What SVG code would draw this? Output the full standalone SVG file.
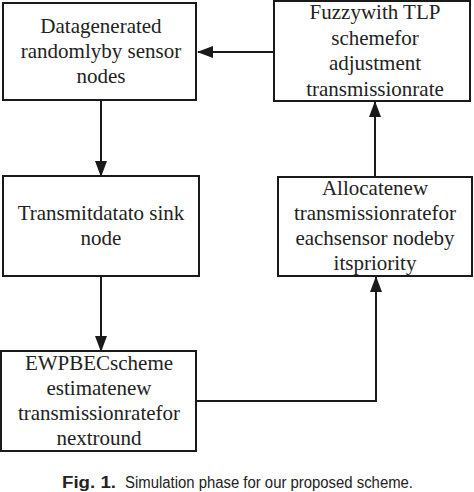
<svg xmlns="http://www.w3.org/2000/svg" width="474" height="492" viewBox="0 0 474 492">
<style>
.box{fill:#fff;stroke:#1a1a1a;stroke-width:2}
.t{font-family:'Times New Roman','Liberation Serif','DejaVu Serif',serif;font-size:21px;fill:#222;text-anchor:middle}
.c{fill:none;stroke:#1a1a1a;stroke-width:2}
.cap{font-family:'Liberation Sans',Arial,sans-serif;font-size:16px;fill:#222}
</style>
<defs>
<marker id="ah" markerWidth="16" markerHeight="12" refX="15" refY="6" orient="auto" markerUnits="userSpaceOnUse">
<path d="M0,0 L16,6 L0,12 Z" fill="#1a1a1a"/>
</marker>
</defs>
<rect width="474" height="492" fill="#fff"/>
<g id="connectors">
<line class="c" x1="274" y1="52" x2="198" y2="52" marker-end="url(#ah)"/>
<line class="c" x1="101" y1="101" x2="101" y2="176" marker-end="url(#ah)"/>
<line class="c" x1="101" y1="276" x2="101" y2="351" marker-end="url(#ah)"/>
<polyline class="c" points="196,401 376,401 376,277" marker-end="url(#ah)"/>
<line class="c" x1="375" y1="177" x2="375" y2="102" marker-end="url(#ah)"/>
</g>
<g id="n1">
<rect class="box" x="3" y="3" width="193" height="97"/>
<text class="t" x="101" y="33">Datagenerated</text>
<text class="t" x="101" y="58">randomlyby sensor</text>
<text class="t" x="101" y="83">nodes</text>
</g>
<g id="n2">
<rect class="box" x="274" y="1" width="196" height="100"/>
<text class="t" x="375" y="19">Fuzzywith TLP</text>
<text class="t" x="375" y="44.5">schemefor</text>
<text class="t" x="375" y="70">adjustment</text>
<text class="t" x="375" y="95.5">transmissionrate</text>
</g>
<g id="n3">
<rect class="box" x="3" y="176" width="196" height="100"/>
<text class="t" x="101" y="220">Transmitdatato  sink</text>
<text class="t" x="101" y="245">node</text>
</g>
<g id="n4">
<rect class="box" x="278" y="177" width="194" height="99"/>
<text class="t" x="375" y="195">Allocatenew</text>
<text class="t" x="375" y="220">transmissionratefor</text>
<text class="t" x="375" y="245">eachsensor nodeby</text>
<text class="t" x="375" y="270">itspriority</text>
</g>
<g id="n5">
<rect class="box" x="1" y="351" width="195" height="100"/>
<text class="t" x="99" y="370">EWPBECscheme</text>
<text class="t" x="99" y="395">estimatenew</text>
<text class="t" x="99" y="420">transmissionratefor</text>
<text class="t" x="99" y="445">nextround</text>
</g>
<g id="caption">
<text class="cap" x="62" y="488" font-weight="bold" textLength="54" lengthAdjust="spacingAndGlyphs">Fig. 1.</text>
<text class="cap" x="125" y="488" textLength="288" lengthAdjust="spacingAndGlyphs">Simulation phase for our proposed scheme.</text>
</g>
</svg>
